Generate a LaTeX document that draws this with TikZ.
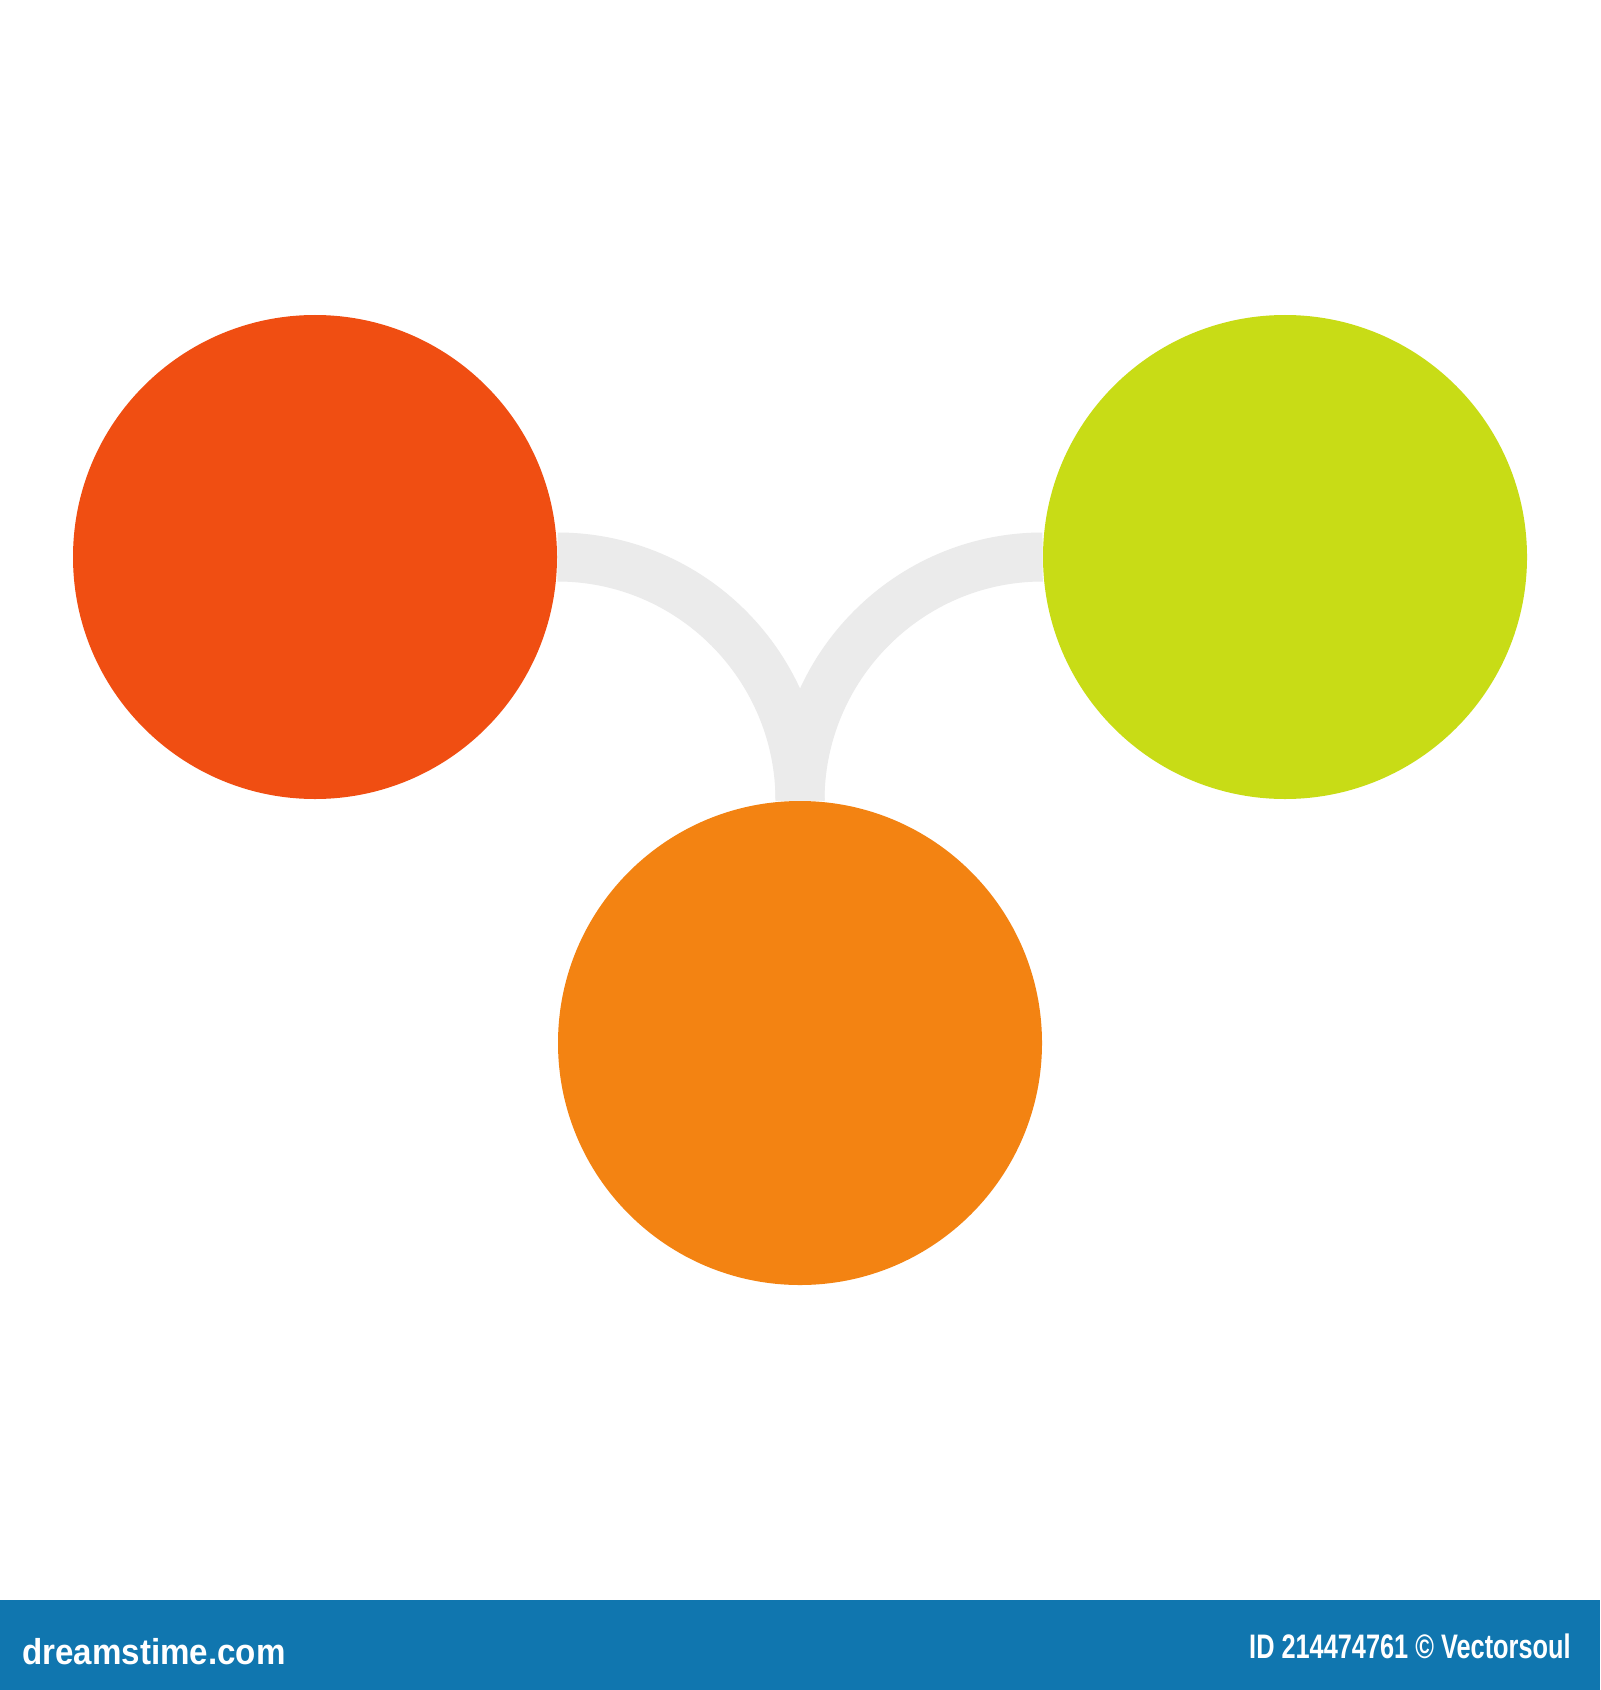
\documentclass[tikz,border=0pt]{standalone}
\usepackage{fontspec}
\setmainfont{Liberation Sans}
\usetikzlibrary{backgrounds}
\definecolor{cred}{HTML}{F04E12}
\definecolor{cgreen}{HTML}{C8DC16}
\definecolor{corange}{HTML}{F38312}
\definecolor{cgray}{HTML}{EBEBEB}
\definecolor{cblue}{HTML}{1076AF}
\tikzset{
  ball/.style={circle, inner sep=0pt, minimum size=242pt, draw=none},
  conn/.style={draw=cgray, line width=24.5pt},
  bartext/.style={text=white, font=\bfseries\fontsize{18}{20}\selectfont, inner sep=0pt}
}
\begin{document}
\begin{tikzpicture}[x=0.5pt, y=-0.5pt]
\useasboundingbox (0,0) rectangle (1600,1690);
\node[ball, fill=cred] (red) at (315,557) {};
\node[ball, fill=cgreen] (green) at (1285,557) {};
\node[ball, fill=corange] (orange) at (800,1043) {};
\begin{pgfonlayer}{background}
\fill[white] (0,0) rectangle (1600,1690);
\draw[conn] (red.east) .. controls +(134,0) and +(0,-134) .. (orange.north);
\draw[conn] (green.west) .. controls +(-134,0) and +(0,-134) .. (orange.north);
\end{pgfonlayer}
\fill[cblue] (0,1600) rectangle (1600,1690);
\node[bartext, anchor=west] (logo) at (22,1652) {\scalebox{0.92}[1]{dreamstime.com}};
\node[bartext, anchor=east, font=\bfseries\fontsize{17}{19}\selectfont] (credit) at (1571,1646) {\scalebox{0.745}[1]{ID 214474761 © Vectorsoul}};
\end{tikzpicture}
\end{document}
